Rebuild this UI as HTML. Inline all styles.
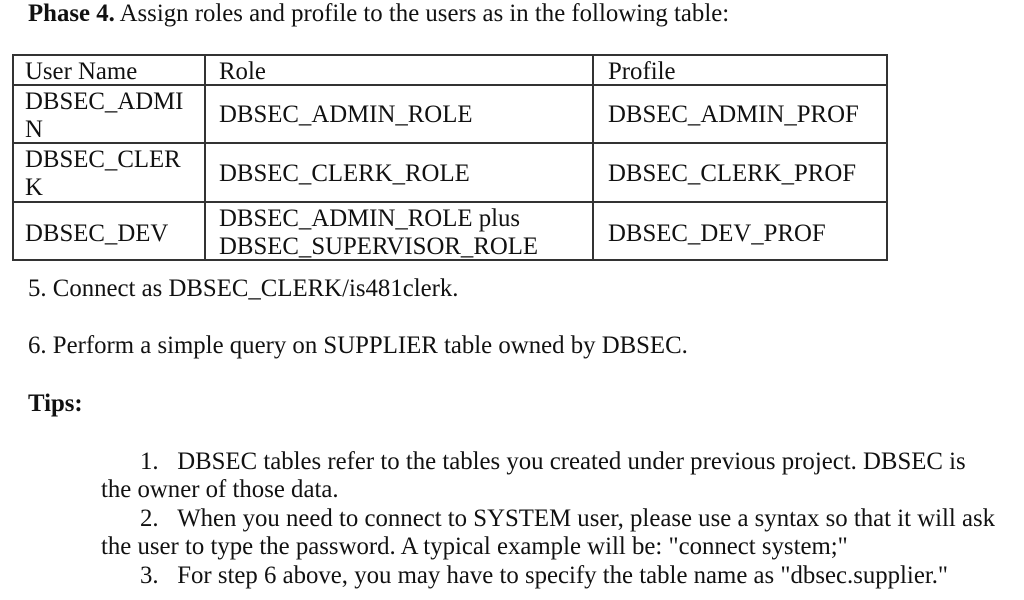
<!DOCTYPE html>
<html><head><meta charset="utf-8"><style>
body{margin:0;background:#fff;width:1024px;height:600px;overflow:hidden;position:relative;font-family:"Liberation Serif",serif;font-size:24.8px;color:#111}
.t{position:absolute;white-space:nowrap;line-height:28px}
.h{position:absolute;background:#333}
</style></head><body>
<div class="t" style="left:28px;top:0px"><b>Phase 4.</b> Assign roles and profile to the users as in the following table:</div>
<div class="h" style="left:12px;top:54px;width:876px;height:2px"></div>
<div class="h" style="left:12px;top:84px;width:876px;height:2px"></div>
<div class="h" style="left:12px;top:142px;width:876px;height:2px"></div>
<div class="h" style="left:12px;top:201px;width:876px;height:2px"></div>
<div class="h" style="left:12px;top:259px;width:876px;height:2px"></div>
<div class="h" style="left:12px;top:54px;width:2px;height:207px"></div>
<div class="h" style="left:204px;top:54px;width:2px;height:207px"></div>
<div class="h" style="left:592px;top:54px;width:2px;height:207px"></div>
<div class="h" style="left:886px;top:54px;width:2px;height:207px"></div>
<div class="t" style="left:25px;top:58px">User Name</div>
<div class="t" style="left:219px;top:58px">Role</div>
<div class="t" style="left:608px;top:58px">Profile</div>
<div class="t" style="left:25px;top:88px">DBSEC_ADMI<br>N</div>
<div class="t" style="left:219px;top:101px">DBSEC_ADMIN_ROLE</div>
<div class="t" style="left:608px;top:101px">DBSEC_ADMIN_PROF</div>
<div class="t" style="left:25px;top:146px">DBSEC_CLER<br>K</div>
<div class="t" style="left:219px;top:160px">DBSEC_CLERK_ROLE</div>
<div class="t" style="left:608px;top:160px">DBSEC_CLERK_PROF</div>
<div class="t" style="left:25px;top:220px">DBSEC_DEV</div>
<div class="t" style="left:219px;top:205px">DBSEC_ADMIN_ROLE plus<br>DBSEC_SUPERVISOR_ROLE</div>
<div class="t" style="left:608px;top:220px">DBSEC_DEV_PROF</div>
<div class="t" style="left:28px;top:275px">5. Connect as DBSEC_CLERK/is481clerk.</div>
<div class="t" style="left:28px;top:332px">6. Perform a simple query on SUPPLIER table owned by DBSEC.</div>
<div class="t" style="left:28px;top:390px"><b>Tips:</b></div>
<div class="t" style="left:140px;top:448px">1.&nbsp;&nbsp;&nbsp;DBSEC tables refer to the tables you created under previous project. DBSEC is</div>
<div class="t" style="left:101px;top:476px">the owner of those data.</div>
<div class="t" style="left:140px;top:505px">2.&nbsp;&nbsp;&nbsp;When you need to connect to SYSTEM user, please use a syntax so that it will ask</div>
<div class="t" style="left:101px;top:533px">the user to type the password. A typical example will be: "connect system;"</div>
<div class="t" style="left:140px;top:562px">3.&nbsp;&nbsp;&nbsp;For step 6 above, you may have to specify the table name as "dbsec.supplier."</div>
</body></html>
